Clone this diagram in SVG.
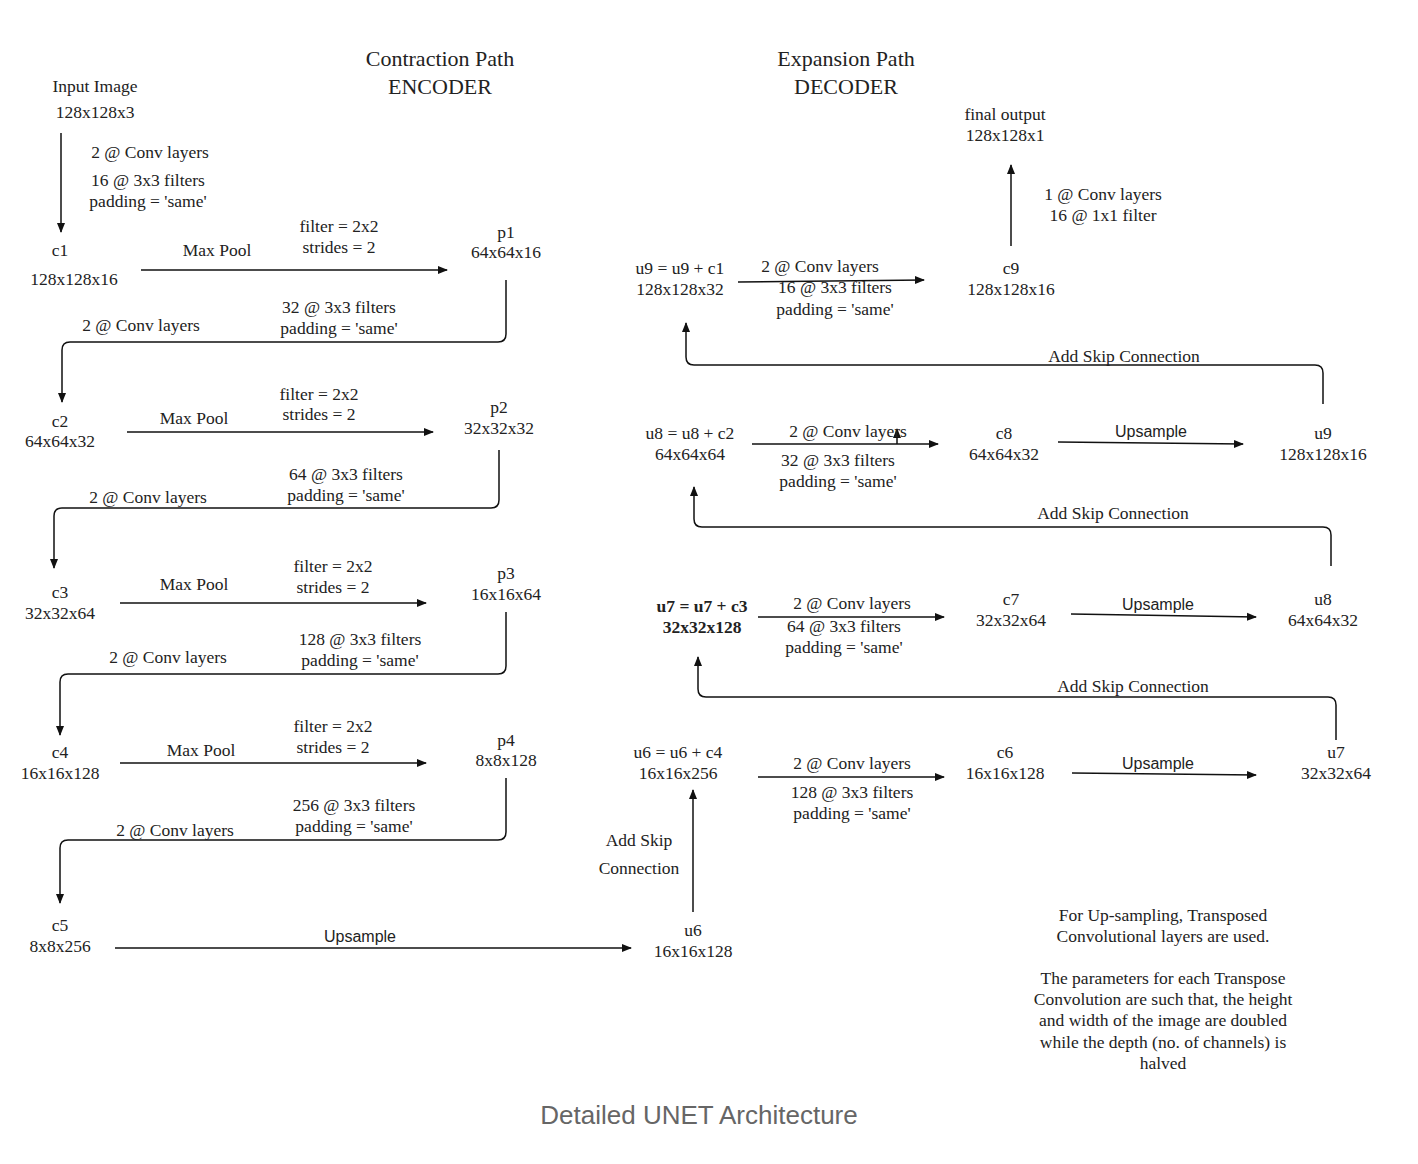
<svg xmlns="http://www.w3.org/2000/svg" width="1418" height="1164" viewBox="0 0 1418 1164">
<defs>
<marker id="ah" markerWidth="10" markerHeight="10" refX="9" refY="5" orient="auto" markerUnits="userSpaceOnUse"><path d="M0,1 L10,5 L0,9 Z" fill="#111"/></marker>
<style>
text{font-family:"Liberation Serif","Times New Roman",serif;font-size:17.5px;fill:#222;text-anchor:middle}
.t{font-size:22px}
.s{font-family:"Liberation Sans",Arial,sans-serif;font-size:16px}
.b{font-weight:bold}
.cap{font-family:"Liberation Sans",Arial,sans-serif;font-size:26px;fill:#666}
#conn path,#conn line{stroke:#111;stroke-width:1.5;fill:none;marker-end:url(#ah)}
</style>
</defs>
<rect width="1418" height="1164" fill="#fff"/>
<text class="t" x="440" y="66">Contraction Path</text>
<text class="t" x="440" y="94">ENCODER</text>
<text class="t" x="846" y="66">Expansion Path</text>
<text class="t" x="846" y="94">DECODER</text>
<g id="conn">
<line x1="61" y1="133" x2="61" y2="232"/>
<line x1="141" y1="270" x2="447" y2="270"/>
<path d="M506,280 V334 q0,8 -8,8 H70 q-8,0 -8,8 V402"/>
<line x1="127" y1="432" x2="433" y2="432"/>
<path d="M499,450 V500 q0,8 -8,8 H62 q-8,0 -8,8 V568"/>
<line x1="120" y1="603" x2="426" y2="603"/>
<path d="M506,612 V666 q0,8 -8,8 H68 q-8,0 -8,8 V735"/>
<line x1="120" y1="763" x2="426" y2="763"/>
<path d="M506,778 V832 q0,8 -8,8 H68 q-8,0 -8,8 V903"/>
<line x1="115" y1="948" x2="631" y2="948"/>
<line x1="693" y1="912" x2="693" y2="790"/>
<line x1="758" y1="777" x2="944" y2="777"/>
<line x1="1072" y1="773" x2="1256" y2="775"/>
<path d="M1336,740 V705 q0,-8 -8,-8 H706 q-8,0 -8,-8 V657"/>
<line x1="758" y1="617" x2="944" y2="617"/>
<line x1="1071" y1="614" x2="1256" y2="617"/>
<path d="M1331,566 V535 q0,-8 -8,-8 H702 q-8,0 -8,-8 V487"/>
<line x1="752" y1="444" x2="938" y2="444"/>
<line x1="1058" y1="442" x2="1243" y2="444"/>
<path d="M1323,404 V373 q0,-8 -8,-8 H694 q-8,0 -8,-8 V323"/>
<line x1="738" y1="282" x2="924" y2="280"/>
<line x1="1011" y1="246" x2="1011" y2="165"/>
<path d="M897,444 V429"/>
</g>
<g id="input"><text x="95" y="92">Input Image</text><text x="95" y="118">128x128x3</text></g>
<text x="150" y="158">2 @ Conv layers</text><text x="148" y="186">16 @ 3x3 filters</text><text x="148" y="207">padding = 'same'</text>
<g id="c1"><text x="60" y="256">c1</text><text x="74" y="285">128x128x16</text></g>
<text x="217" y="256">Max Pool</text><text x="339" y="232">filter = 2x2</text><text x="339" y="253">strides = 2</text>
<g id="p1"><text x="506" y="238">p1</text><text x="506" y="258">64x64x16</text></g>
<text x="141" y="331">2 @ Conv layers</text><text x="339" y="313">32 @ 3x3 filters</text><text x="339" y="334">padding = 'same'</text>
<g id="c2"><text x="60" y="427">c2</text><text x="60" y="447">64x64x32</text></g>
<text x="194" y="424">Max Pool</text><text x="319" y="400">filter = 2x2</text><text x="319" y="420">strides = 2</text>
<g id="p2"><text x="499" y="413">p2</text><text x="499" y="434">32x32x32</text></g>
<text x="148" y="503">2 @ Conv layers</text><text x="346" y="480">64 @ 3x3 filters</text><text x="346" y="501">padding = 'same'</text>
<g id="c3"><text x="60" y="598">c3</text><text x="60" y="619">32x32x64</text></g>
<text x="194" y="590">Max Pool</text><text x="333" y="572">filter = 2x2</text><text x="333" y="593">strides = 2</text>
<g id="p3"><text x="506" y="579">p3</text><text x="506" y="600">16x16x64</text></g>
<text x="168" y="663">2 @ Conv layers</text><text x="360" y="645">128 @ 3x3 filters</text><text x="360" y="666">padding = 'same'</text>
<g id="c4"><text x="60" y="758">c4</text><text x="60" y="779">16x16x128</text></g>
<text x="201" y="756">Max Pool</text><text x="333" y="732">filter = 2x2</text><text x="333" y="753">strides = 2</text>
<g id="p4"><text x="506" y="746">p4</text><text x="506" y="766">8x8x128</text></g>
<text x="175" y="836">2 @ Conv layers</text><text x="354" y="811">256 @ 3x3 filters</text><text x="354" y="832">padding = 'same'</text>
<g id="c5"><text x="60" y="931">c5</text><text x="60" y="952">8x8x256</text></g>
<text class="s" x="360" y="942">Upsample</text>
<g id="u6"><text x="693" y="936">u6</text><text x="693" y="957">16x16x128</text></g>
<text x="639" y="846">Add Skip</text><text x="639" y="874">Connection</text>
<g id="u6sum"><text x="678" y="758">u6 = u6 + c4</text><text x="678" y="779">16x16x256</text></g>
<text x="852" y="769">2 @ Conv layers</text><text x="852" y="798">128 @ 3x3 filters</text><text x="852" y="819">padding = 'same'</text>
<g id="c6"><text x="1005" y="758">c6</text><text x="1005" y="779">16x16x128</text></g>
<text class="s" x="1158" y="769">Upsample</text>
<g id="u7"><text x="1336" y="758">u7</text><text x="1336" y="779">32x32x64</text></g>
<text x="1133" y="692">Add Skip Connection</text>
<g id="u7sum"><text class="b" x="702" y="612">u7 = u7 + c3</text><text class="b" x="702" y="633">32x32x128</text></g>
<text x="852" y="609">2 @ Conv layers</text><text x="844" y="632">64 @ 3x3 filters</text><text x="844" y="653">padding = 'same'</text>
<g id="c7"><text x="1011" y="605">c7</text><text x="1011" y="626">32x32x64</text></g>
<text class="s" x="1158" y="610">Upsample</text>
<g id="u8"><text x="1323" y="605">u8</text><text x="1323" y="626">64x64x32</text></g>
<text x="1113" y="519">Add Skip Connection</text>
<g id="u8sum"><text x="690" y="439">u8 = u8 + c2</text><text x="690" y="460">64x64x64</text></g>
<text x="848" y="437">2 @ Conv layers</text><text x="838" y="466">32 @ 3x3 filters</text><text x="838" y="487">padding = 'same'</text>
<g id="c8"><text x="1004" y="439">c8</text><text x="1004" y="460">64x64x32</text></g>
<text class="s" x="1151" y="437">Upsample</text>
<g id="u9"><text x="1323" y="439">u9</text><text x="1323" y="460">128x128x16</text></g>
<text x="1124" y="362">Add Skip Connection</text>
<g id="u9sum"><text x="680" y="274">u9 = u9 + c1</text><text x="680" y="295">128x128x32</text></g>
<text x="820" y="272">2 @ Conv layers</text><text x="835" y="293">16 @ 3x3 filters</text><text x="835" y="315">padding = 'same'</text>
<g id="c9"><text x="1011" y="274">c9</text><text x="1011" y="295">128x128x16</text></g>
<text x="1103" y="200">1 @ Conv layers</text><text x="1103" y="221">16 @ 1x1 filter</text>
<g id="final"><text x="1005" y="120">final output</text><text x="1005" y="141">128x128x1</text></g>
<g id="note">
<text x="1163" y="921">For Up-sampling, Transposed</text>
<text x="1163" y="942">Convolutional layers are used.</text>
<text x="1163" y="984">The parameters for each Transpose</text>
<text x="1163" y="1005">Convolution are such that, the height</text>
<text x="1163" y="1026">and width of the image are doubled</text>
<text x="1163" y="1048">while the depth (no. of channels) is</text>
<text x="1163" y="1069">halved</text>
</g>
<text class="cap" x="699" y="1124">Detailed UNET Architecture</text>
</svg>
